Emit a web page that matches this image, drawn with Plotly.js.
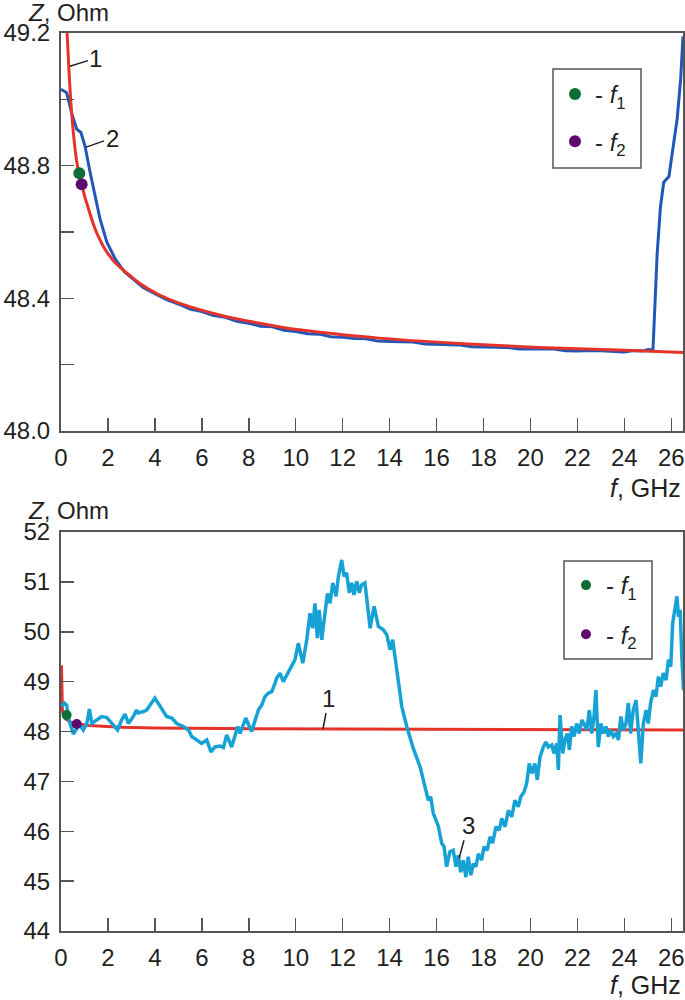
<!DOCTYPE html>
<html>
<head>
<meta charset="utf-8">
<script src="https://cdn.plot.ly/plotly-3.0.1.min.js"></script>
<style>html,body{margin:0;padding:0;background:#fff}</style>
</head>
<body>
<div id="chart" style="width:685px;height:1000px"></div>
<script>
// ---- Top panel data ----
const fTopCurve1 = [0.26, 0.33, 0.41, 0.5, 0.6, 0.7, 0.78, 0.88, 1.0, 1.15, 1.32, 1.45, 1.6, 1.8, 2.0, 2.25, 2.5, 3.0, 3.36, 4.2, 5.06, 6.76, 8.46, 10.16, 13.56, 16.95, 20.35, 23.75, 26.5];
const zTopCurve1 = [49.2, 49.1, 49.0, 48.92, 48.85, 48.8, 48.777, 48.745, 48.71, 48.675, 48.636, 48.61, 48.585, 48.557, 48.535, 48.512, 48.495, 48.465, 48.445, 48.41, 48.385, 48.35, 48.325, 48.305, 48.28, 48.264, 48.252, 48.244, 48.237];

const fTopCurve2 = [0, 0.24, 0.45, 0.67, 0.85, 1.02, 1.24, 1.45, 1.66, 1.95, 2.3, 2.7, 3, 3.5, 4, 4.5, 5, 5.5, 6, 6.5, 7, 7.5, 8, 8.5, 9, 9.5, 10, 10.5, 11, 11.5, 12, 12.5, 13, 13.5, 14, 14.5, 15, 15.5, 16, 16.5, 17, 17.5, 18, 18.5, 19, 19.5, 20, 20.5, 21, 21.5, 22, 22.5, 23, 23.5, 24, 24.4, 24.8, 25.0, 25.22, 25.4, 25.54, 25.68, 25.8, 25.9, 26.04, 26.25, 26.4, 26.5];
const zTopCurve2 = [49.03, 49.02, 48.96, 48.91, 48.90, 48.86, 48.78, 48.71, 48.64, 48.57, 48.52, 48.48, 48.462, 48.433, 48.414, 48.396, 48.383, 48.368, 48.36, 48.348, 48.343, 48.331, 48.325, 48.316, 48.314, 48.304, 48.3, 48.293, 48.292, 48.284, 48.283, 48.279, 48.278, 48.271, 48.27, 48.268, 48.268, 48.262, 48.261, 48.26, 48.259, 48.254, 48.253, 48.253, 48.252, 48.247, 48.246, 48.247, 48.247, 48.242, 48.241, 48.243, 48.242, 48.239, 48.238, 48.243, 48.241, 48.246, 48.244, 48.536, 48.676, 48.75, 48.76, 48.767, 48.837, 48.94, 49.06, 49.19];

const fTopF1 = [0.78], zTopF1 = [48.777];
const fTopF2 = [0.88], zTopF2 = [48.744];

// ---- Bottom panel data ----
const fBotCurve1 = [0.02, 0.03, 0.045, 0.06, 0.1, 0.2, 0.4, 0.6, 1.16, 2.59, 4.0, 6.1, 8.55, 12, 16, 20, 24, 26.5];
const zBotCurve1 = [49.33, 49.0, 48.7, 48.43, 48.33, 48.25, 48.19, 48.165, 48.12, 48.085, 48.07, 48.06, 48.055, 48.05, 48.045, 48.04, 48.035, 48.03];

const fBotCurve3 = [0.03,0.14,0.24,0.34,0.53,0.67,0.81,0.95,1.1,1.21,1.31,1.52,1.73,1.95,2.16,2.41,2.58,2.73,2.87,3.08,3.22,3.29,3.51,3.65,4.0,4.29,4.5,4.72,4.93,5.21,5.43,5.57,5.78,5.99,6.21,6.39,6.56,6.78,6.92,7.06,7.27,7.53,7.63,7.87,8.12,8.27,8.41,8.55,8.69,8.83,8.98,9.12,9.19,9.33,9.47,9.62,9.83,9.97,10.11,10.30,10.47,10.61,10.72,10.82,10.92,11.0,11.11,11.21,11.35,11.46,11.58,11.72,11.82,11.96,12.06,12.17,12.28,12.39,12.48,12.6,12.71,12.81,12.95,13.05,13.17,13.34,13.52,13.73,13.88,14.02,14.13,14.23,14.37,14.52,14.73,15.01,15.30,15.51,15.65,15.75,15.86,15.98,16.08,16.22,16.32,16.43,16.57,16.71,16.83,16.93,17.03,17.14,17.25,17.35,17.46,17.57,17.68,17.78,17.92,18.02,18.16,18.28,18.39,18.53,18.67,18.78,18.92,19.06,19.2,19.34,19.48,19.59,19.73,19.84,19.95,20.07,20.19,20.29,20.41,20.55,20.66,20.76,20.91,21.0,21.12,21.19,21.26,21.38,21.47,21.57,21.66,21.76,21.86,21.97,22.08,22.19,22.28,22.40,22.51,22.61,22.71,22.79,22.89,23.0,23.11,23.22,23.32,23.42,23.53,23.65,23.75,23.85,23.96,24.07,24.17,24.27,24.38,24.5,24.6,24.7,24.81,24.93,25.02,25.12,25.24,25.35,25.45,25.55,25.66,25.78,25.88,25.98,26.06,26.16,26.24,26.31,26.38,26.45,26.52];
const zBotCurve3 = [48.50,48.57,48.53,48.23,47.95,48.06,48.13,48.03,48.16,48.45,48.16,48.23,48.30,48.28,48.16,48.03,48.23,48.35,48.16,48.30,48.43,48.37,48.40,48.43,48.67,48.47,48.30,48.27,48.16,48.10,48.03,47.90,47.83,47.76,47.83,47.59,47.69,47.71,47.68,47.93,47.69,48.10,47.96,48.27,48.00,48.23,48.43,48.53,48.70,48.77,48.80,48.97,49.07,49.17,49.00,49.13,49.34,49.44,49.77,49.37,49.84,50.37,50.07,50.57,49.87,50.44,49.84,50.30,50.77,50.57,50.98,50.71,51.11,51.44,51.11,51.18,50.78,50.98,50.74,51.01,50.78,50.94,50.98,50.57,50.07,50.51,50.11,50.04,49.94,49.64,49.84,49.50,48.97,48.50,48.10,47.66,47.29,46.89,46.62,46.69,46.36,46.22,46.09,45.76,45.69,45.29,45.59,45.62,45.29,45.52,45.18,45.42,45.08,45.49,45.12,45.35,45.29,45.55,45.42,45.69,45.62,45.89,45.76,46.09,46.02,46.26,46.09,46.42,46.29,46.62,46.49,46.69,46.79,46.96,47.36,47.16,47.36,47.03,47.49,47.69,47.79,47.69,47.73,47.56,47.76,47.23,48.33,47.56,47.83,47.96,47.63,48.10,47.90,48.16,47.96,48.23,48.16,48.03,48.43,47.96,48.30,48.83,47.69,48.16,47.96,48.10,47.90,48.03,47.90,47.96,47.83,48.30,48.03,48.16,48.57,47.96,48.43,48.63,47.90,47.36,48.16,48.43,48.16,48.57,48.83,48.70,49.10,48.90,49.17,49.03,49.44,49.30,50.17,50.44,50.71,50.30,50.44,49.50,48.83];

const fBotF1 = [0.24], zBotF1 = [48.33];
const fBotF2 = [0.67], zBotF2 = [48.15];

const xTicks = [0,2,4,6,8,10,12,14,16,18,20,22,24,26];
const yTopTicks = [48.0, 48.4, 48.8, 49.2];
const yTopMinor = [48.2, 48.6, 49.0];
const yBotTicks = [44,45,46,47,48,49,50,51,52];

const legendName1 = '- <i>f</i><sub>1</sub>';
const legendName2 = '- <i>f</i><sub>2</sub>';

// ---- styles ----
const RED = '#e5332a', BLUE = '#2157b7', CYAN = '#17a2d6', GREEN = '#0e6d36', PURPLE = '#5f0a6f';
const TXT = '#231f20', AXC = '#555555';
const FONT = 'Liberation Sans, Arial, sans-serif';

const traces = [
  {x: fTopCurve2, y: zTopCurve2, xaxis:'x', yaxis:'y', mode:'lines', line:{color:BLUE, width:3}, showlegend:false},
  {x: fTopCurve1, y: zTopCurve1, xaxis:'x', yaxis:'y', mode:'lines', line:{color:RED, width:3, shape:'spline', smoothing:0.8}, showlegend:false},
  {x: fTopF1, y: zTopF1, xaxis:'x', yaxis:'y', mode:'markers', marker:{color:GREEN, size:12}, name:legendName1, legend:'legend', legendgroup:'t1'},
  {x: fTopF2, y: zTopF2, xaxis:'x', yaxis:'y', mode:'markers', marker:{color:PURPLE, size:12}, name:legendName2, legend:'legend', legendgroup:'t2'},
  {x: fBotCurve1, y: zBotCurve1, xaxis:'x2', yaxis:'y2', mode:'lines', line:{color:RED, width:3}, showlegend:false},
  {x: fBotCurve3, y: zBotCurve3, xaxis:'x2', yaxis:'y2', mode:'lines', line:{color:CYAN, width:3.5}, showlegend:false},
  {x: fBotF1, y: zBotF1, xaxis:'x2', yaxis:'y2', mode:'markers', marker:{color:GREEN, size:10}, name:legendName1, legend:'legend2', legendgroup:'b1'},
  {x: fBotF2, y: zBotF2, xaxis:'x2', yaxis:'y2', mode:'markers', marker:{color:PURPLE, size:10}, name:legendName2, legend:'legend2', legendgroup:'b2'}
];

const baseX = {
  range:[0, 26.5], tickvals:xTicks, ticktext:xTicks.map(String), ticks:'inside', ticklen:13, tickwidth:1.5, tickcolor:AXC,
  showline:true, mirror:true, linecolor:AXC, linewidth:2, showgrid:false, zeroline:false,
  tickfont:{family:FONT, size:24, color:TXT}, ticklabelstandoff:4
};
const baseY = {
  ticks:'inside', ticklen:13, tickwidth:1.5, tickcolor:AXC,
  showline:true, mirror:true, linecolor:AXC, linewidth:2, showgrid:false, zeroline:false,
  tickfont:{family:FONT, size:24, color:TXT}, ticklabelstandoff:4
};

function py(px){ return (931 - px) / 898; }
function pxx(px){ return (px - 61) / 622; }

const layout = {
  width:685, height:1000,
  margin:{l:61, r:2, t:33, b:69},
  paper_bgcolor:'#fff', plot_bgcolor:'#fff',
  font:{family:FONT, size:24, color:TXT},
  xaxis: Object.assign({}, baseX, {anchor:'y', domain:[0,1]}),
  yaxis: Object.assign({}, baseY, {anchor:'x', domain:[py(431), 1], range:[48.0, 49.2],
          tickvals:yTopTicks, ticktext:yTopTicks.map(v=>v.toFixed(1)),
          minor:{tickvals:yTopMinor, ticks:'inside', ticklen:13, tickwidth:1.5, tickcolor:AXC}}),
  xaxis2: Object.assign({}, baseX, {anchor:'y2', domain:[0,1]}),
  yaxis2: Object.assign({}, baseY, {anchor:'x2', domain:[0, py(532)], range:[44, 52],
          tickvals:yBotTicks, ticktext:yBotTicks.map(String)}),
  legend:{x:pxx(555), y:py(72), xanchor:'left', yanchor:'top', bgcolor:'rgba(0,0,0,0)', borderwidth:0,
          tracegroupgap:13, font:{family:FONT, size:24, color:TXT}},
  legend2:{x:pxx(566), y:py(563), xanchor:'left', yanchor:'top', bgcolor:'rgba(0,0,0,0)', borderwidth:0,
          tracegroupgap:15, font:{family:FONT, size:24, color:TXT}},
  shapes:[
    {type:'rect', xref:'paper', yref:'paper', x0:pxx(553), x1:pxx(641), y0:py(168), y1:py(69), line:{color:AXC, width:1.5}},
    {type:'rect', xref:'paper', yref:'paper', x0:pxx(564), x1:pxx(652), y0:py(659), y1:py(561), line:{color:AXC, width:1.5}}
  ],
  annotations:[
    {xref:'paper', yref:'paper', x:pxx(26), y:py(13), xanchor:'left', yanchor:'middle', text:'<i>Z</i>, Ohm', showarrow:false, font:{family:FONT, size:24, color:TXT}},
    {xref:'paper', yref:'paper', x:pxx(26), y:py(510), xanchor:'left', yanchor:'middle', text:'<i>Z</i>, Ohm', showarrow:false, font:{family:FONT, size:24, color:TXT}},
    {xref:'paper', yref:'paper', x:1.0, y:py(488), xanchor:'right', yanchor:'middle', text:'<i>f</i>, GHz', showarrow:false, font:{family:FONT, size:25, color:TXT}},
    {xref:'paper', yref:'paper', x:1.0, y:py(985), xanchor:'right', yanchor:'middle', text:'<i>f</i>, GHz', showarrow:false, font:{family:FONT, size:25, color:TXT}},
    {xref:'x', yref:'y', x:0.38, y:49.10, text:'1', showarrow:true, arrowhead:0, arrowwidth:1.5, arrowcolor:TXT, ax:26, ay:-8, font:{family:FONT, size:24, color:TXT}},
    {xref:'x', yref:'y', x:1.07, y:48.856, text:'2', showarrow:true, arrowhead:0, arrowwidth:1.5, arrowcolor:TXT, ax:26, ay:-9, font:{family:FONT, size:24, color:TXT}},
    {xref:'x2', yref:'y2', x:11.16, y:48.05, text:'1', showarrow:true, arrowhead:0, arrowwidth:1.5, arrowcolor:TXT, ax:6, ay:-31, font:{family:FONT, size:24, color:TXT}},
    {xref:'x2', yref:'y2', x:16.96, y:45.46, text:'3', showarrow:true, arrowhead:0, arrowwidth:1.5, arrowcolor:TXT, ax:9, ay:-33, font:{family:FONT, size:24, color:TXT}}
  ]
};

Plotly.newPlot('chart', traces, layout, {staticPlot:true, displayModeBar:false});
</script>
</body>
</html>
